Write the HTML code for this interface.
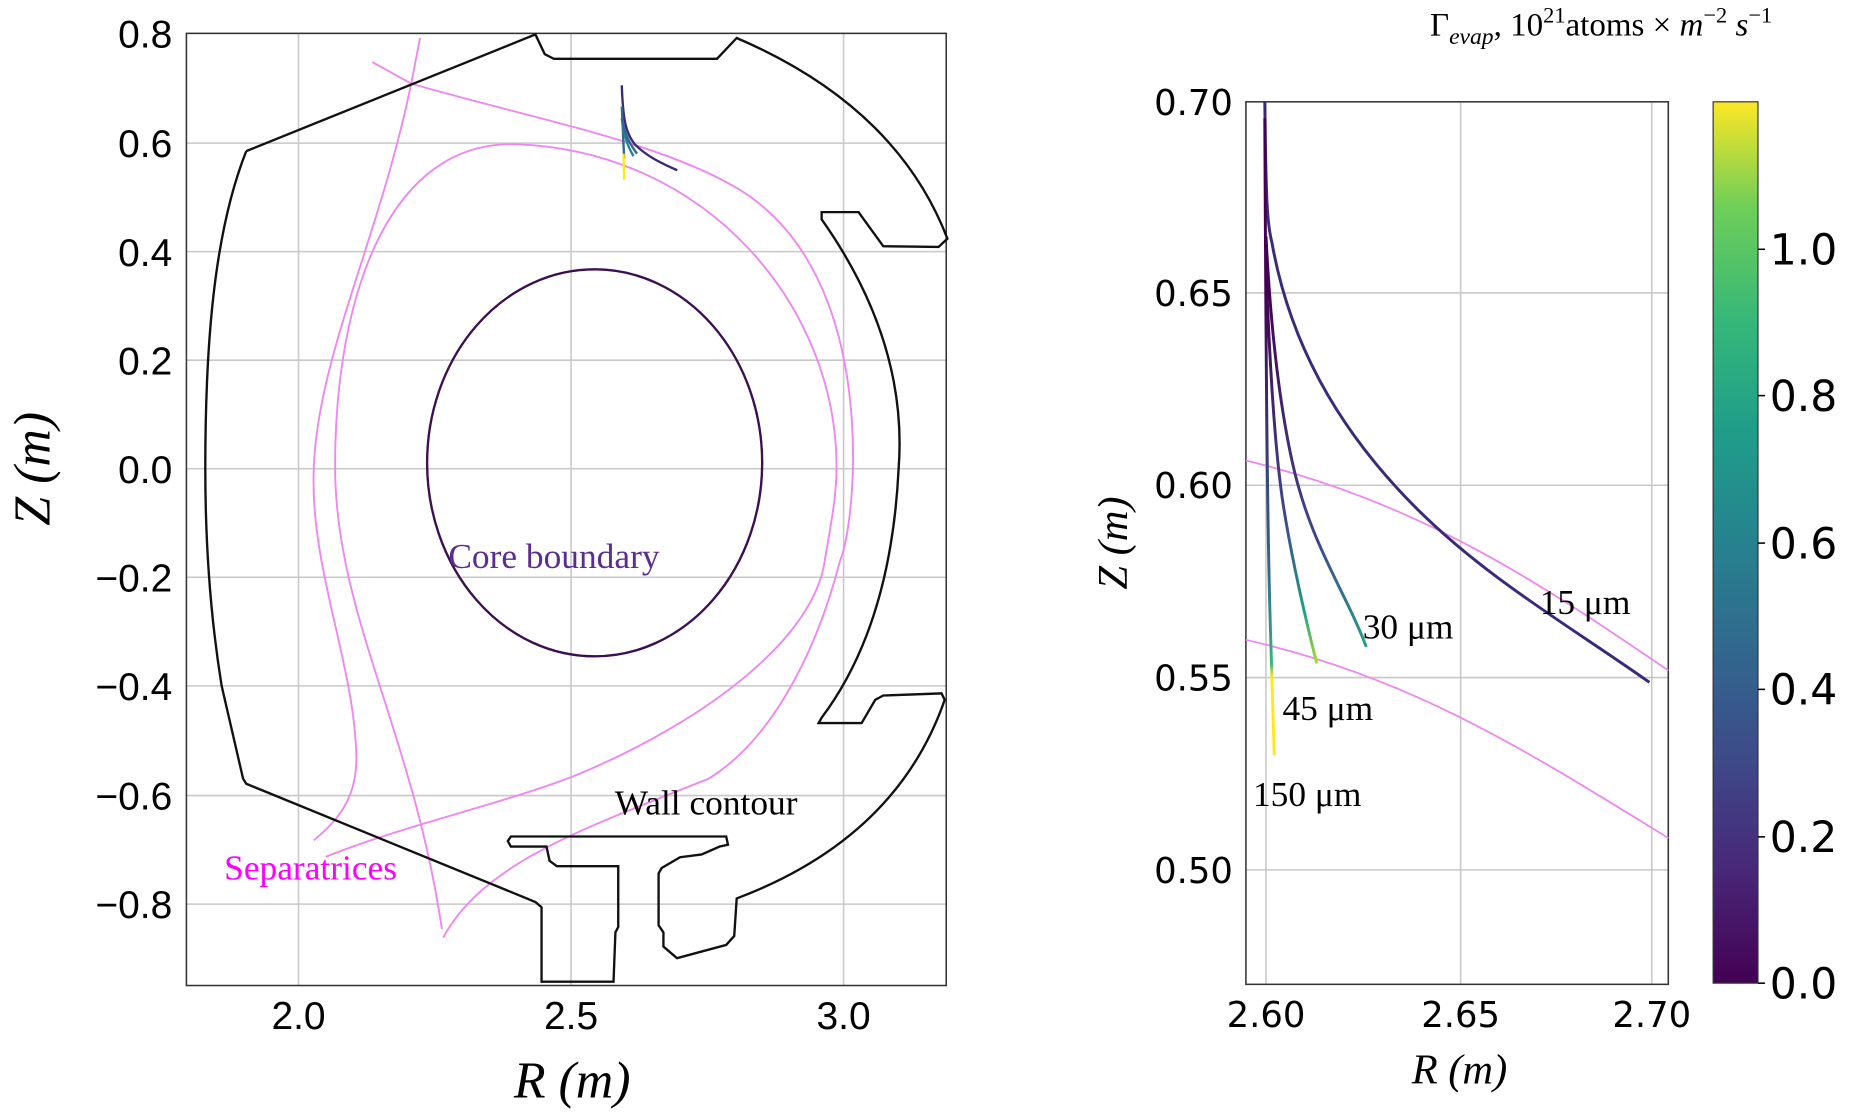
<!DOCTYPE html>
<html><head><meta charset="utf-8"><style>
html,body{margin:0;padding:0;background:#fff;}
svg{display:block;}
.t{font-family:"Liberation Sans",sans-serif;font-size:33px;fill:#000;}
.s{font-family:"Liberation Serif",serif;}
</style></head><body>
<svg width="1850" height="1118" viewBox="0 0 1568 947" xmlns="http://www.w3.org/2000/svg">
<defs>
<linearGradient id="cb" x1="0" y1="1" x2="0" y2="0">
<stop offset="0" stop-color="#440154"/><stop offset="0.13" stop-color="#482878"/><stop offset="0.25" stop-color="#3e4989"/><stop offset="0.38" stop-color="#31688e"/><stop offset="0.5" stop-color="#26828e"/><stop offset="0.63" stop-color="#1f9e89"/><stop offset="0.75" stop-color="#35b779"/><stop offset="0.88" stop-color="#6ece58"/><stop offset="1" stop-color="#fde725"/>
</linearGradient>
<linearGradient id="g150" gradientUnits="userSpaceOnUse" x1="0" y1="250" x2="0" y2="640"><stop offset="0" stop-color="#440154"/><stop offset="0.6" stop-color="#31688e"/><stop offset="0.8" stop-color="#35b779"/><stop offset="0.83" stop-color="#fde725"/><stop offset="1" stop-color="#fde725"/></linearGradient>
<linearGradient id="g45" gradientUnits="userSpaceOnUse" x1="0" y1="250" x2="0" y2="565"><stop offset="0" stop-color="#440154"/><stop offset="0.6" stop-color="#3e4989"/><stop offset="0.85" stop-color="#1f9e89"/><stop offset="1" stop-color="#b5de2b"/></linearGradient>
<linearGradient id="g30" gradientUnits="userSpaceOnUse" x1="0" y1="250" x2="0" y2="550"><stop offset="0" stop-color="#440154"/><stop offset="0.7" stop-color="#3e4989"/><stop offset="1" stop-color="#26a08a"/></linearGradient>
</defs>

<!-- LEFT AXES -->
<g stroke="#c8c8c8" stroke-width="1.3">
<line x1="253" y1="28" x2="253" y2="835"/><line x1="484" y1="28" x2="484" y2="835"/><line x1="715" y1="28" x2="715" y2="835"/>
<line x1="158" y1="28" x2="802" y2="28"/><line x1="158" y1="121" x2="802" y2="121"/><line x1="158" y1="213" x2="802" y2="213"/><line x1="158" y1="305" x2="802" y2="305"/><line x1="158" y1="397" x2="802" y2="397"/><line x1="158" y1="489" x2="802" y2="489"/><line x1="158" y1="581" x2="802" y2="581"/><line x1="158" y1="674" x2="802" y2="674"/><line x1="158" y1="766" x2="802" y2="766"/>
</g>
<rect x="158" y="28" width="644" height="807" fill="none" stroke="#333" stroke-width="1.3"/>
<g class="t" text-anchor="end">
<text x="146" y="40">0.8</text><text x="146" y="133">0.6</text><text x="146" y="225">0.4</text><text x="146" y="317">0.2</text><text x="146" y="409">0.0</text><text x="146" y="501">−0.2</text><text x="146" y="593">−0.4</text><text x="146" y="686">−0.6</text><text x="146" y="778">−0.8</text>
</g>
<g class="t" text-anchor="middle"><text x="253" y="872">2.0</text><text x="484" y="872">2.5</text><text x="715" y="872">3.0</text></g>
<text class="s" x="485" y="930" font-size="44" font-style="italic" text-anchor="middle">R (m)</text>
<text class="s" transform="translate(42,397) rotate(-90)" font-size="44" font-style="italic" text-anchor="middle">Z (m)</text>

<!-- separatrices -->
<g fill="none" stroke="#ee88ee" stroke-width="1.6">
<path d="M356,32 L348.5,70.6 C322,200 270,300 266,395 C262,480 300,560 302,640 C303,680 282,698 266,712"/>
<path d="M315.6,52.3 L348.5,70.6 C450,100 560,120 626,160 C700,205 724,300 723,395 C722,430 718,460 712,475 C690,560 650,630 600,660 C500,700 410,730 375.6,794.5"/>
<path d="M276,726 C340,700 430,680 490,656 C600,610 690,540 699,475 C705,440 709,420 709,395 C709,260 600,128 438,122 C330,118 284,250 284,395 C284,520 350,620 374.5,787"/>
</g>
<!-- core -->
<ellipse cx="504" cy="392" rx="142" ry="164" fill="none" stroke="#3b0f50" stroke-width="2"/>
<!-- wall -->
<g fill="none" stroke="#111" stroke-width="2">
<path d="M208.7,127.8 L453.8,28.9 L461.7,45.6 L469.5,49.6 L607.7,49.6 L624.4,31.9 Q760,90 803,202 L795.5,209 L748.6,208.4 L727.7,179.5 L696.4,179.5 L696.4,185.6 Q770,290 761.6,397.6 Q755,530 696.4,608 L693.8,612.6 L730.3,612.6 L741.8,592.9 L748.6,589.2 L798,587.4 L800.7,592.9 Q760,710 624.4,761.2 L622.3,793 L615.5,800.6 L573.8,811.8 L562.3,802 L562.3,790 L558.2,783.9 L558.2,740 L560.8,735.4 L576.4,726.3 L594.7,723.9 L610,717.2 L617,715.7 L615.5,708.7 L433,708.7 L430.4,712.6 L433,717.2 L463.2,717.2 L465.8,729.3 L472,733.9 L524,733.9 L524,785.4 L521.6,790 L520,831.8 L459,831.8 L459,768.7 L453.8,764.2 L208.7,664 L206,659.6 L187.8,580.7 C178,520 174,460 174,397 C174,300 180,200 208.7,127.8"/>
</g>
<!-- small trajectories -->
<g fill="none" stroke-width="2">
<path d="M527,72 C528,100 530,112 538,122 C548,132 560,138 574,144" stroke="#3b2a7a"/>
<path d="M527,90 L529,134" stroke="#31688e"/>
<path d="M527,100 C529,115 532,124 537,132" stroke="#26828e"/>
<path d="M527,100 C530,115 534,122 540,130" stroke="#31688e"/>
<line x1="528.5" y1="130" x2="529" y2="152" stroke="#fde725"/>
</g>
<text class="s" x="380" y="481" font-size="30" fill="#5a2d91">Core boundary</text>
<text class="s" x="521" y="690" font-size="30" fill="#000">Wall contour</text>
<text class="s" x="190" y="745" font-size="30" fill="#ff00ff">Separatrices</text>

<!-- RIGHT AXES -->
<g stroke="#c8c8c8" stroke-width="1.3">
<line x1="1073" y1="86" x2="1073" y2="834"/><line x1="1238" y1="86" x2="1238" y2="834"/><line x1="1400" y1="86" x2="1400" y2="834"/>
<line x1="1056" y1="248" x2="1414" y2="248"/><line x1="1056" y1="411" x2="1414" y2="411"/><line x1="1056" y1="574" x2="1414" y2="574"/><line x1="1056" y1="737" x2="1414" y2="737"/>
</g>
<rect x="1056" y="86" width="358" height="748" fill="none" stroke="#333" stroke-width="1.3"/>
<g font-family="DejaVu Sans,sans-serif" font-size="30" text-anchor="end">
<text x="1045" y="97">0.70</text><text x="1045" y="259">0.65</text><text x="1045" y="422">0.60</text><text x="1045" y="585">0.55</text><text x="1045" y="748">0.50</text>
</g>
<g font-family="DejaVu Sans,sans-serif" font-size="30" text-anchor="middle">
<text x="1073" y="870">2.60</text><text x="1238" y="870">2.65</text><text x="1400" y="870">2.70</text>
</g>
<text class="s" x="1237" y="918" font-size="36" font-style="italic" text-anchor="middle">R (m)</text>
<text class="s" transform="translate(955,460) rotate(-90)" font-size="36" font-style="italic" text-anchor="middle">Z (m)</text>

<g fill="none" stroke-width="1.5" stroke="#ee88ee">
<path d="M1056,390 C1200,425 1300,490 1414,568"/>
<path d="M1056,542 C1200,575 1300,640 1414,710"/>
</g>
<g fill="none" stroke-width="2.5">
<path d="M1072,86 C1073,170 1074,190 1078,205 C1092,285 1130,360 1200,430 C1260,490 1330,530 1398,578" stroke="#3b2a7a"/>
<path d="M1073,200 C1076,260 1082,330 1095,390 C1110,460 1140,500 1158,548" stroke="url(#g30)"/>
<path d="M1073,230 C1076,300 1080,380 1088,430 C1096,480 1108,530 1116,562" stroke="url(#g45)"/>
<path d="M1072,100 C1073,300 1074,450 1077,540 L1080,640" stroke="url(#g150)"/>
</g>
<g class="s" font-size="30">
<text x="1305" y="520">15 μm</text><text x="1155" y="541">30 μm</text><text x="1087" y="610">45 μm</text><text x="1062" y="683">150 μm</text>
</g>

<!-- colorbar -->
<rect x="1452" y="86" width="38" height="747" fill="url(#cb)" stroke="#333" stroke-width="1"/>
<g stroke="#000" stroke-width="1.3">
<line x1="1490" y1="833" x2="1496" y2="833"/><line x1="1490" y1="709" x2="1496" y2="709"/><line x1="1490" y1="584" x2="1496" y2="584"/><line x1="1490" y1="460" x2="1496" y2="460"/><line x1="1490" y1="335" x2="1496" y2="335"/><line x1="1490" y1="211" x2="1496" y2="211"/>
</g>
<g font-family="DejaVu Sans,sans-serif" font-size="36">
<text x="1500" y="846">0.0</text><text x="1500" y="722">0.2</text><text x="1500" y="597">0.4</text><text x="1500" y="473">0.6</text><text x="1500" y="348">0.8</text><text x="1500" y="224">1.0</text>
</g>
<text x="1212" y="30" font-size="28" font-family="Liberation Serif,serif">Γ<tspan font-style="italic" font-size="20" dy="7">evap</tspan><tspan dy="-7">,  10</tspan><tspan font-size="19" dy="-11">21</tspan><tspan dy="11">atoms × </tspan><tspan font-style="italic">m</tspan><tspan font-size="19" dy="-11">−2</tspan><tspan dy="11"> </tspan><tspan font-style="italic">s</tspan><tspan font-size="19" dy="-11">−1</tspan></text>
</svg>
</body></html>
